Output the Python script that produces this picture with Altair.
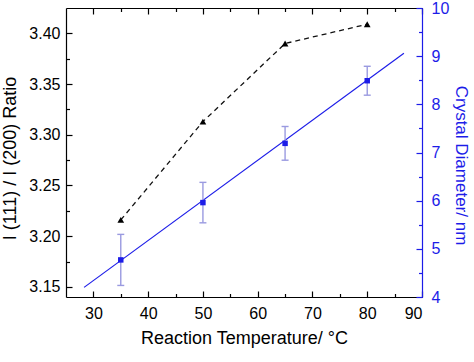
import altair as alt
import pandas as pd

# ---- data ----
temps = [35, 50, 65, 80]
ratio = [3.216, 3.313, 3.390, 3.409]
diam = [4.77, 5.96, 7.19, 8.49]
diam_err = [0.53, 0.42, 0.35, 0.30]
fit_x = [28.3, 86.7]
fit_y = [4.20, 9.06]

x_major = [30, 40, 50, 60, 70, 80, 90]
x_minor = [35, 45, 55, 65, 75, 85]
yl_major = [3.15, 3.20, 3.25, 3.30, 3.35, 3.40]
yl_minor = [3.175, 3.225, 3.275, 3.325, 3.375]
yr_major = [4, 5, 6, 7, 8, 9, 10]
yr_minor = [4.5, 5.5, 6.5, 7.5, 8.5, 9.5]

FONT = "Liberation Sans"
BLUE = "#1c1ce8"
ERR = "#9a9ae0"

tri = pd.DataFrame({"t": temps, "r": ratio})
sq = pd.DataFrame({"t": temps, "d": diam,
                   "lo": [d - e for d, e in zip(diam, diam_err)],
                   "hi": [d + e for d, e in zip(diam, diam_err)]})
caps = pd.DataFrame({"t": temps * 2, "v": list(sq["lo"]) + list(sq["hi"])})
fit = pd.DataFrame({"t": fit_x, "d": fit_y})

xs = alt.Scale(domain=[25, 90], nice=False, zero=False)
yls = alt.Scale(domain=[3.14, 3.425], nice=False, zero=False)
yrs = alt.Scale(domain=[4, 10], nice=False, zero=False)

MAJ, MIN = 6, 3.5


def tick_axis(orient, values, size, color="black"):
    return alt.Axis(orient=orient, values=values, labels=False, domain=False,
                    ticks=True, tickSize=size, offset=-size, tickColor=color,
                    tickWidth=1.2, title=None, grid=False)


def domain_axis(orient, color="black"):
    return alt.Axis(orient=orient, labels=False, ticks=False, tickSize=0,
                    domain=True, domainColor=color, domainWidth=1.2,
                    title=None, grid=False)


ax_x_lab = alt.Axis(orient="bottom", values=x_major, ticks=False, tickSize=0,
                    domain=True, domainColor="black", domainWidth=1.2,
                    labelPadding=8, labelFont=FONT, labelFontSize=16,
                    labelColor="black", format="d", grid=False,
                    title="Reaction Temperature/ °C", titleFont=FONT,
                    titleFontSize=18, titleFontWeight="normal",
                    titleColor="black", titlePadding=8)
ax_yl_lab = alt.Axis(orient="left", values=yl_major, ticks=False, tickSize=0,
                     domain=True, domainColor="black", domainWidth=1.2,
                     labelPadding=6, labelFont=FONT, labelFontSize=16,
                     labelColor="black", format=".2f", grid=False,
                     title="I (111) / I (200) Ratio", titleFont=FONT,
                     titleFontSize=18, titleFontWeight="normal",
                     titleColor="black", titlePadding=9, titleY=150)
ax_yr_lab = alt.Axis(orient="right", values=yr_major, ticks=False, tickSize=0,
                     domain=True, domainColor=BLUE, domainWidth=1.2,
                     labelPadding=9, labelFont=FONT, labelFontSize=16,
                     labelColor=BLUE, format="d", grid=False,
                     title="Crystal Diameter/ nm", titleFont=FONT,
                     titleFontSize=17, titleFontWeight="normal",
                     titleColor=BLUE, titlePadding=3, titleY=157)

# black series (left axis)
l_line = alt.Chart(tri).mark_line(color="#111", strokeDash=[5, 4], strokeWidth=1.3).encode(
    x=alt.X("t:Q", scale=xs, axis=ax_x_lab),
    y=alt.Y("r:Q", scale=yls, axis=ax_yl_lab))
l_pts = alt.Chart(tri).mark_point(shape="triangle-up", filled=True, color="black",
                                  size=45, opacity=1).encode(
    x=alt.X("t:Q", scale=xs, axis=tick_axis("bottom", x_major, MAJ)),
    y=alt.Y("r:Q", scale=yls, axis=tick_axis("left", yl_major, MAJ)))
l_minor = alt.Chart(tri).mark_point(opacity=0).encode(
    x=alt.X("t:Q", scale=xs, axis=tick_axis("bottom", x_minor, MIN)),
    y=alt.Y("r:Q", scale=yls, axis=tick_axis("left", yl_minor, MIN)))
top_dom = alt.Chart(tri).mark_point(opacity=0).encode(
    x=alt.X("t:Q", scale=xs, axis=domain_axis("top")),
    y=alt.Y("r:Q", scale=yls, axis=None))
top_maj = alt.Chart(tri).mark_point(opacity=0).encode(
    x=alt.X("t:Q", scale=xs, axis=tick_axis("top", x_major, MAJ)),
    y=alt.Y("r:Q", scale=yls, axis=None))
top_min = alt.Chart(tri).mark_point(opacity=0).encode(
    x=alt.X("t:Q", scale=xs, axis=tick_axis("top", x_minor, MIN)),
    y=alt.Y("r:Q", scale=yls, axis=None))

# blue series (right axis)
fit_line = alt.Chart(fit).mark_line(color=BLUE, strokeWidth=1.2).encode(
    x=alt.X("t:Q", scale=xs, axis=None),
    y=alt.Y("d:Q", scale=yrs, axis=ax_yr_lab))
err = alt.Chart(sq).mark_rule(color=ERR, strokeWidth=1.4).encode(
    x=alt.X("t:Q", scale=xs, axis=None),
    y=alt.Y("lo:Q", scale=yrs, axis=tick_axis("right", yr_major, MAJ, BLUE)),
    y2="hi:Q")
cap = alt.Chart(caps).mark_tick(color=ERR, thickness=1.4, size=7,
                                orient="horizontal", opacity=1).encode(
    x=alt.X("t:Q", scale=xs, axis=None),
    y=alt.Y("v:Q", scale=yrs, axis=tick_axis("right", yr_minor, MIN, BLUE)))
sq_pts = alt.Chart(sq).mark_point(shape="square", filled=True, color=BLUE,
                                  size=30, opacity=1).encode(
    x=alt.X("t:Q", scale=xs, axis=None),
    y=alt.Y("d:Q", scale=yrs, axis=None))

chart = alt.layer(
    top_dom, top_maj, top_min, l_minor, fit_line, err, cap, sq_pts, l_line, l_pts
).resolve_scale(y="independent").resolve_axis(x="independent", y="independent").properties(
    width=356, height=289, autosize="none",
    padding={"left": 66, "top": 8, "right": 52, "bottom": 65},
    background="white"
).configure_view(stroke=None)

chart.save("out.html", embed_options={"renderer": "svg", "actions": False})
